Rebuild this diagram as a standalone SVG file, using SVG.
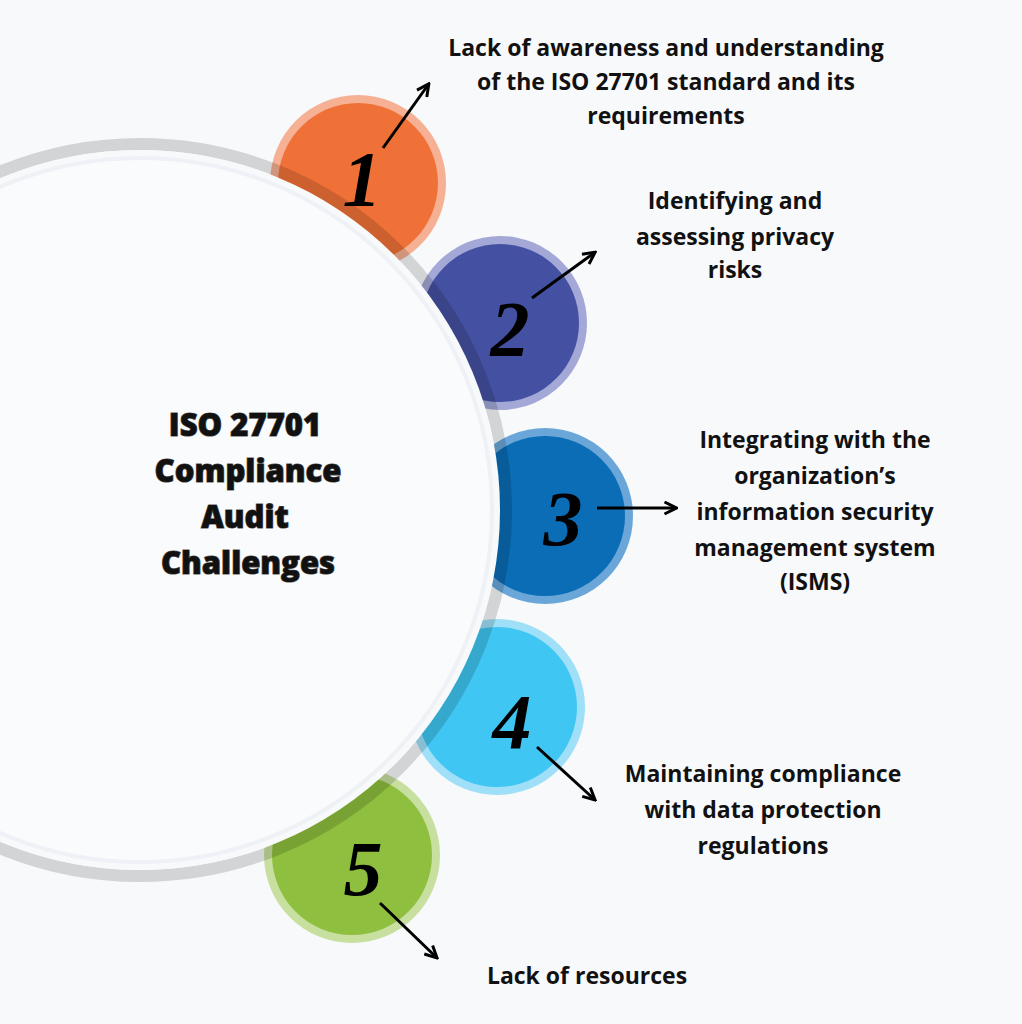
<svg xmlns="http://www.w3.org/2000/svg" width="1022" height="1024" viewBox="0 0 1022 1024">
<defs>
<style>
.t{font-family:"Open Sans","Liberation Sans",sans-serif;font-weight:700;font-size:23px;fill:#111;text-anchor:middle}
.ti{font-family:"Open Sans","Liberation Sans",sans-serif;font-weight:800;font-size:31px;fill:#111;text-anchor:middle;stroke:#555;stroke-width:1.2;paint-order:stroke}
.n{font-family:"Liberation Serif",serif;font-weight:700;font-style:italic;font-size:78px;fill:#000;text-anchor:middle}
.a{stroke:#000;stroke-width:3;fill:none;marker-end:url(#ah)}
</style>
<marker id="ah" viewBox="0 0 10 10" refX="8" refY="5" markerWidth="5" markerHeight="5" orient="auto"><path d="M1,1 L9,5 L1,9" fill="none" stroke="#000" stroke-width="2"/></marker>
<mask id="m" maskUnits="userSpaceOnUse" x="0" y="0" width="1022" height="1024"><rect width="1022" height="1024" fill="#fff"/><circle cx="140" cy="510" r="360" fill="#000"/></mask>
</defs>
<rect width="1022" height="1024" fill="#f8f9fb"/>
<circle cx="140" cy="510" r="352" fill="#fafbfc" stroke="#eef1f5" stroke-width="4"/>
<g mask="url(#m)">
<g id="p1"><circle cx="358" cy="183" r="88" fill="#f6b094"/><circle cx="358" cy="183" r="80" fill="#f07138"/></g>
<g id="p2"><circle cx="500" cy="323" r="87" fill="#a3a8d6"/><circle cx="500" cy="323" r="79" fill="#4450a2"/></g>
<g id="p3"><circle cx="545" cy="516" r="88" fill="#6aa6d8"/><circle cx="545" cy="516" r="80" fill="#0a6db5"/></g>
<g id="p4"><circle cx="497" cy="707" r="88" fill="#9fe0f8"/><circle cx="497" cy="707" r="80" fill="#3fc6f3"/></g>
<g id="p5"><circle cx="352" cy="855" r="88" fill="#c7df9f"/><circle cx="352" cy="855" r="80" fill="#8fbf3f"/></g>
<circle cx="140" cy="510" r="366" fill="none" stroke="#000" stroke-opacity="0.15" stroke-width="12"/>
</g>
<g id="nums">
<text class="n" x="362" y="205">1</text>
<text class="n" x="510" y="355">2</text>
<text class="n" x="563" y="545">3</text>
<text class="n" x="512" y="748">4</text>
<text class="n" x="363" y="895">5</text>
</g>
<g id="connectors">
<line class="a" x1="383" y1="148" x2="428" y2="85"/>
<line class="a" x1="532" y1="298" x2="594" y2="253"/>
<line class="a" x1="597" y1="508" x2="675" y2="508"/>
<line class="a" x1="537" y1="747" x2="594" y2="799"/>
<line class="a" x1="380" y1="903" x2="436" y2="957"/>
</g>
<g id="title">
<text class="ti" x="245" y="436">ISO 27701</text>
<text class="ti" x="248" y="482">Compliance</text>
<text class="ti" x="245" y="528">Audit</text>
<text class="ti" x="248" y="574">Challenges</text>
</g>
<g id="l1"><text class="t" x="666" y="56">Lack of awareness and understanding</text><text class="t" x="666" y="90">of the ISO 27701 standard and its</text><text class="t" x="666" y="124">requirements</text></g>
<g id="l2"><text class="t" x="735" y="209">Identifying and</text><text class="t" x="735" y="245">assessing privacy</text><text class="t" x="735" y="278">risks</text></g>
<g id="l3"><text class="t" x="815" y="448">Integrating with the</text><text class="t" x="815" y="484">organization’s</text><text class="t" x="815" y="520">information security</text><text class="t" x="815" y="556">management system</text><text class="t" x="815" y="590">(ISMS)</text></g>
<g id="l4"><text class="t" x="763" y="782">Maintaining compliance</text><text class="t" x="763" y="818">with data protection</text><text class="t" x="763" y="854">regulations</text></g>
<g id="l5"><text class="t" x="587" y="984">Lack of resources</text></g>
</svg>
